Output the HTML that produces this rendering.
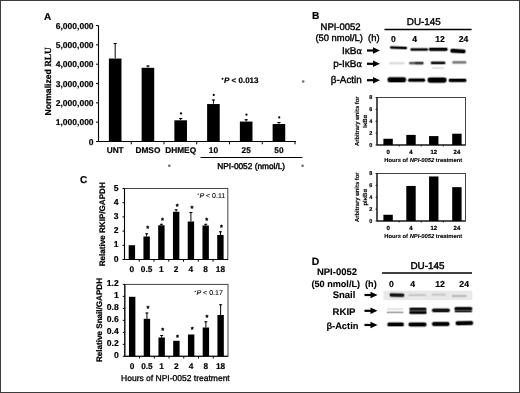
<!DOCTYPE html>
<html><head><meta charset="utf-8"><title>Figure</title>
<style>
html,body{margin:0;padding:0;background:#fff;}
body{width:520px;height:393px;overflow:hidden;}
svg{display:block;font-family:'Liberation Sans', Arial, sans-serif;text-rendering:geometricPrecision;}
</style></head>
<body>
<svg width="520" height="393" viewBox="0 0 520 393">
<rect x="0" y="0" width="520" height="393" fill="#fff"/>
<rect x="0.5" y="0.5" width="519" height="392" fill="none" stroke="#3c3c3c" stroke-width="1"/>
<text x="44.0" y="20.2" font-size="10" font-weight="bold" text-anchor="start" fill="#000" stroke="#000" stroke-width="0.18" >A</text>
<line x1="98.5" y1="25.5" x2="98.5" y2="141.5" stroke="#000" stroke-width="1.1" />
<line x1="96.0" y1="141.5" x2="98.5" y2="141.5" stroke="#000" stroke-width="1" />
<text x="93.6" y="144.5" font-size="8.5" font-weight="bold" text-anchor="end" fill="#000" stroke="#000" stroke-width="0.18" >0</text>
<line x1="96.0" y1="122.17" x2="98.5" y2="122.17" stroke="#000" stroke-width="1" />
<text x="93.6" y="125.17" font-size="8.5" font-weight="bold" text-anchor="end" fill="#000" stroke="#000" stroke-width="0.18" >1,000,000</text>
<line x1="96.0" y1="102.84" x2="98.5" y2="102.84" stroke="#000" stroke-width="1" />
<text x="93.6" y="105.84" font-size="8.5" font-weight="bold" text-anchor="end" fill="#000" stroke="#000" stroke-width="0.18" >2,000,000</text>
<line x1="96.0" y1="83.51" x2="98.5" y2="83.51" stroke="#000" stroke-width="1" />
<text x="93.6" y="86.51" font-size="8.5" font-weight="bold" text-anchor="end" fill="#000" stroke="#000" stroke-width="0.18" >3,000,000</text>
<line x1="96.0" y1="64.18" x2="98.5" y2="64.18" stroke="#000" stroke-width="1" />
<text x="93.6" y="67.18" font-size="8.5" font-weight="bold" text-anchor="end" fill="#000" stroke="#000" stroke-width="0.18" >4,000,000</text>
<line x1="96.0" y1="44.85000000000001" x2="98.5" y2="44.85000000000001" stroke="#000" stroke-width="1" />
<text x="93.6" y="47.85000000000001" font-size="8.5" font-weight="bold" text-anchor="end" fill="#000" stroke="#000" stroke-width="0.18" >5,000,000</text>
<line x1="96.0" y1="25.52000000000001" x2="98.5" y2="25.52000000000001" stroke="#000" stroke-width="1" />
<text x="93.6" y="28.52000000000001" font-size="8.5" font-weight="bold" text-anchor="end" fill="#000" stroke="#000" stroke-width="0.18" >6,000,000</text>
<line x1="98.5" y1="141.5" x2="296" y2="141.5" stroke="#000" stroke-width="1.1" />
<line x1="131.25" y1="141.5" x2="131.25" y2="144.3" stroke="#000" stroke-width="1" />
<line x1="164.0" y1="141.5" x2="164.0" y2="144.3" stroke="#000" stroke-width="1" />
<line x1="196.75" y1="141.5" x2="196.75" y2="144.3" stroke="#000" stroke-width="1" />
<line x1="229.5" y1="141.5" x2="229.5" y2="144.3" stroke="#000" stroke-width="1" />
<line x1="262.25" y1="141.5" x2="262.25" y2="144.3" stroke="#000" stroke-width="1" />
<line x1="295.0" y1="141.5" x2="295.0" y2="144.3" stroke="#000" stroke-width="1" />
<text transform="translate(51.0,81.4) rotate(-90)" font-size="8.6" font-weight="bold" text-anchor="middle" stroke="#000" stroke-width="0.25">Normalized <tspan font-family="'Liberation Serif', 'Times New Roman', serif" font-size="9.3">RLU</tspan></text>
<rect x="108.875" y="58.55" width="12.6" height="82.95" fill="#000" />
<line x1="115.175" y1="43" x2="115.175" y2="58.25" stroke="#000" stroke-width="1" />
<line x1="113.575" y1="43.5" x2="116.77499999999999" y2="43.5" stroke="#000" stroke-width="1.1" />
<text x="115.175" y="152.6" font-size="8.3" font-weight="bold" text-anchor="middle" fill="#000" stroke="#000" stroke-width="0.18" >UNT</text>
<rect x="141.625" y="67.8" width="12.6" height="73.7" fill="#000" />
<line x1="147.925" y1="65.5" x2="147.925" y2="67.5" stroke="#000" stroke-width="1" />
<line x1="146.32500000000002" y1="66.0" x2="149.525" y2="66.0" stroke="#000" stroke-width="1.1" />
<text x="147.925" y="152.6" font-size="8.3" font-weight="bold" text-anchor="middle" fill="#000" stroke="#000" stroke-width="0.18" >DMSO</text>
<rect x="174.375" y="120.3" width="12.6" height="21.2" fill="#000" />
<line x1="180.675" y1="118" x2="180.675" y2="120" stroke="#000" stroke-width="1" />
<line x1="179.07500000000002" y1="118.5" x2="182.275" y2="118.5" stroke="#000" stroke-width="1.1" />
<text x="180.675" y="152.6" font-size="8.3" font-weight="bold" text-anchor="middle" fill="#000" stroke="#000" stroke-width="0.18" >DHMEQ</text>
<circle cx="180.97500000000002" cy="113.4" r="1.1" fill="#000"/>
<rect x="207.125" y="104.05" width="12.6" height="37.45" fill="#000" />
<line x1="213.425" y1="99.5" x2="213.425" y2="103.75" stroke="#000" stroke-width="1" />
<line x1="211.82500000000002" y1="100.0" x2="215.025" y2="100.0" stroke="#000" stroke-width="1.1" />
<text x="213.425" y="152.6" font-size="8.3" font-weight="bold" text-anchor="middle" fill="#000" stroke="#000" stroke-width="0.18" >10</text>
<circle cx="213.72500000000002" cy="94.9" r="1.1" fill="#000"/>
<rect x="239.875" y="121.55" width="12.6" height="19.95" fill="#000" />
<line x1="246.175" y1="119.25" x2="246.175" y2="121.25" stroke="#000" stroke-width="1" />
<line x1="244.57500000000002" y1="119.75" x2="247.775" y2="119.75" stroke="#000" stroke-width="1.1" />
<text x="246.175" y="152.6" font-size="8.3" font-weight="bold" text-anchor="middle" fill="#000" stroke="#000" stroke-width="0.18" >25</text>
<circle cx="246.47500000000002" cy="114.65" r="1.1" fill="#000"/>
<rect x="272.625" y="124.05" width="12.6" height="17.45" fill="#000" />
<line x1="278.925" y1="122" x2="278.925" y2="123.75" stroke="#000" stroke-width="1" />
<line x1="277.325" y1="122.5" x2="280.52500000000003" y2="122.5" stroke="#000" stroke-width="1.1" />
<text x="278.925" y="152.6" font-size="8.3" font-weight="bold" text-anchor="middle" fill="#000" stroke="#000" stroke-width="0.18" >50</text>
<circle cx="279.225" cy="117.4" r="1.1" fill="#000"/>
<circle cx="222.5" cy="78.8" r="0.95" fill="#000"/>
<text x="224.0" y="83.3" font-size="8.0" font-weight="bold" text-anchor="start" fill="#000" stroke="#000" stroke-width="0.18" ><tspan font-style="italic">P</tspan> &lt; 0.013</text>
<line x1="200.5" y1="157.5" x2="302.5" y2="157.5" stroke="#000" stroke-width="1.2" />
<text x="251.2" y="168.8" font-size="8.3" font-weight="normal" text-anchor="middle" fill="#000" stroke="#000" stroke-width="0.42" >NPI-0052 (nmol/L)</text>
<circle cx="303.2" cy="81.5" r="1.3" fill="#6a6a6a"/>
<circle cx="302.6" cy="165.8" r="1.3" fill="#6a6a6a"/>
<circle cx="169.3" cy="165.7" r="1.3" fill="#6a6a6a"/>
<text x="80.1" y="183.3" font-size="10" font-weight="bold" text-anchor="start" fill="#000" stroke="#000" stroke-width="0.18" >C</text>
<rect x="124.5" y="188.5" width="103.30000000000001" height="71.0" fill="none" stroke="#444" stroke-width="1"/>
<line x1="124.5" y1="188.5" x2="124.5" y2="259.5" stroke="#000" stroke-width="1.1" />
<line x1="124.5" y1="259.5" x2="227.8" y2="259.5" stroke="#000" stroke-width="1.1" />
<line x1="122.5" y1="259.5" x2="124.5" y2="259.5" stroke="#000" stroke-width="1" />
<text x="118.5" y="261.5" font-size="8.6" font-weight="bold" text-anchor="end" fill="#000" stroke="#000" stroke-width="0.18" >0</text>
<line x1="122.5" y1="245.3" x2="124.5" y2="245.3" stroke="#000" stroke-width="1" />
<text x="118.5" y="247.3" font-size="8.6" font-weight="bold" text-anchor="end" fill="#000" stroke="#000" stroke-width="0.18" >1</text>
<line x1="122.5" y1="231.1" x2="124.5" y2="231.1" stroke="#000" stroke-width="1" />
<text x="118.5" y="233.1" font-size="8.6" font-weight="bold" text-anchor="end" fill="#000" stroke="#000" stroke-width="0.18" >2</text>
<line x1="122.5" y1="216.9" x2="124.5" y2="216.9" stroke="#000" stroke-width="1" />
<text x="118.5" y="218.9" font-size="8.6" font-weight="bold" text-anchor="end" fill="#000" stroke="#000" stroke-width="0.18" >3</text>
<line x1="122.5" y1="202.7" x2="124.5" y2="202.7" stroke="#000" stroke-width="1" />
<text x="118.5" y="204.7" font-size="8.6" font-weight="bold" text-anchor="end" fill="#000" stroke="#000" stroke-width="0.18" >4</text>
<line x1="122.5" y1="188.5" x2="124.5" y2="188.5" stroke="#000" stroke-width="1" />
<text x="118.5" y="190.5" font-size="8.6" font-weight="bold" text-anchor="end" fill="#000" stroke="#000" stroke-width="0.18" >5</text>
<line x1="139.25714285714287" y1="259.5" x2="139.25714285714287" y2="261.7" stroke="#000" stroke-width="1" />
<line x1="154.0142857142857" y1="259.5" x2="154.0142857142857" y2="261.7" stroke="#000" stroke-width="1" />
<line x1="168.77142857142857" y1="259.5" x2="168.77142857142857" y2="261.7" stroke="#000" stroke-width="1" />
<line x1="183.52857142857144" y1="259.5" x2="183.52857142857144" y2="261.7" stroke="#000" stroke-width="1" />
<line x1="198.28571428571428" y1="259.5" x2="198.28571428571428" y2="261.7" stroke="#000" stroke-width="1" />
<line x1="213.04285714285714" y1="259.5" x2="213.04285714285714" y2="261.7" stroke="#000" stroke-width="1" />
<rect x="128.67857142857144" y="245.2" width="6.4" height="14.300000000000011" fill="#000" />
<text x="131.87857142857143" y="272.1" font-size="8.3" font-weight="bold" text-anchor="middle" fill="#000" stroke="#000" stroke-width="0.18" >0</text>
<rect x="143.4357142857143" y="236.5" width="6.4" height="23.0" fill="#000" />
<line x1="146.6357142857143" y1="233.3" x2="146.6357142857143" y2="236.5" stroke="#000" stroke-width="1" />
<line x1="145.1357142857143" y1="233.8" x2="148.1357142857143" y2="233.8" stroke="#000" stroke-width="1" />
<text x="147.6357142857143" y="231.1" font-size="7.5" font-weight="normal" text-anchor="middle" fill="#000" stroke="#000" stroke-width="0.38" >*</text>
<text x="146.6357142857143" y="272.1" font-size="8.3" font-weight="bold" text-anchor="middle" fill="#000" stroke="#000" stroke-width="0.18" >0.5</text>
<rect x="158.19285714285715" y="225.3" width="6.4" height="34.19999999999999" fill="#000" />
<line x1="161.39285714285714" y1="223.8" x2="161.39285714285714" y2="225.3" stroke="#000" stroke-width="1" />
<line x1="159.89285714285714" y1="224.3" x2="162.89285714285714" y2="224.3" stroke="#000" stroke-width="1" />
<text x="162.39285714285714" y="222.9" font-size="7.5" font-weight="normal" text-anchor="middle" fill="#000" stroke="#000" stroke-width="0.38" >*</text>
<text x="161.39285714285714" y="272.1" font-size="8.3" font-weight="bold" text-anchor="middle" fill="#000" stroke="#000" stroke-width="0.18" >1</text>
<rect x="172.95000000000002" y="211.8" width="6.4" height="47.69999999999999" fill="#000" />
<line x1="176.15" y1="209.3" x2="176.15" y2="211.8" stroke="#000" stroke-width="1" />
<line x1="174.65" y1="209.8" x2="177.65" y2="209.8" stroke="#000" stroke-width="1" />
<text x="177.15" y="208.6" font-size="7.5" font-weight="normal" text-anchor="middle" fill="#000" stroke="#000" stroke-width="0.38" >*</text>
<text x="176.15" y="272.1" font-size="8.3" font-weight="bold" text-anchor="middle" fill="#000" stroke="#000" stroke-width="0.18" >2</text>
<rect x="187.70714285714286" y="221.5" width="6.4" height="38.0" fill="#000" />
<line x1="190.90714285714284" y1="212" x2="190.90714285714284" y2="221.5" stroke="#000" stroke-width="1" />
<line x1="189.40714285714284" y1="212.5" x2="192.40714285714284" y2="212.5" stroke="#000" stroke-width="1" />
<text x="191.90714285714284" y="211.1" font-size="7.5" font-weight="normal" text-anchor="middle" fill="#000" stroke="#000" stroke-width="0.38" >*</text>
<text x="190.90714285714284" y="272.1" font-size="8.3" font-weight="bold" text-anchor="middle" fill="#000" stroke="#000" stroke-width="0.18" >4</text>
<rect x="202.46428571428572" y="225.5" width="6.4" height="34.0" fill="#000" />
<line x1="205.6642857142857" y1="223.8" x2="205.6642857142857" y2="225.5" stroke="#000" stroke-width="1" />
<line x1="204.1642857142857" y1="224.3" x2="207.1642857142857" y2="224.3" stroke="#000" stroke-width="1" />
<text x="206.6642857142857" y="222.9" font-size="7.5" font-weight="normal" text-anchor="middle" fill="#000" stroke="#000" stroke-width="0.38" >*</text>
<text x="205.6642857142857" y="272.1" font-size="8.3" font-weight="bold" text-anchor="middle" fill="#000" stroke="#000" stroke-width="0.18" >8</text>
<rect x="217.2214285714286" y="235" width="6.4" height="24.5" fill="#000" />
<line x1="220.42142857142858" y1="231.3" x2="220.42142857142858" y2="235" stroke="#000" stroke-width="1" />
<line x1="218.92142857142858" y1="231.8" x2="221.92142857142858" y2="231.8" stroke="#000" stroke-width="1" />
<text x="221.42142857142858" y="230.4" font-size="7.5" font-weight="normal" text-anchor="middle" fill="#000" stroke="#000" stroke-width="0.38" >*</text>
<text x="220.42142857142858" y="272.1" font-size="8.3" font-weight="bold" text-anchor="middle" fill="#000" stroke="#000" stroke-width="0.18" >18</text>
<circle cx="198.20000000000002" cy="194.20000000000002" r="0.65" fill="#000"/>
<text x="199.4" y="197.8" font-size="7" font-weight="normal" text-anchor="start" fill="#000" stroke="#000" stroke-width="0.1" ><tspan font-style="italic">P</tspan> &lt; 0.11</text>
<text transform="translate(104.7,224.3) rotate(-90)" font-size="8.1" font-weight="bold" text-anchor="middle" stroke="#000" stroke-width="0.22">Relative RKIP/GAPDH</text>
<rect x="124.8" y="284.4" width="103.2" height="71.90000000000003" fill="none" stroke="#444" stroke-width="1"/>
<line x1="124.8" y1="284.4" x2="124.8" y2="356.3" stroke="#000" stroke-width="1.1" />
<line x1="124.8" y1="356.3" x2="228" y2="356.3" stroke="#000" stroke-width="1.1" />
<line x1="122.8" y1="356.3" x2="124.8" y2="356.3" stroke="#000" stroke-width="1" />
<text x="118.8" y="358.3" font-size="8.6" font-weight="bold" text-anchor="end" fill="#000" stroke="#000" stroke-width="0.18" >0</text>
<line x1="122.8" y1="344.31666666666666" x2="124.8" y2="344.31666666666666" stroke="#000" stroke-width="1" />
<text x="118.8" y="346.31666666666666" font-size="8.6" font-weight="bold" text-anchor="end" fill="#000" stroke="#000" stroke-width="0.18" >0.2</text>
<line x1="122.8" y1="332.3333333333333" x2="124.8" y2="332.3333333333333" stroke="#000" stroke-width="1" />
<text x="118.8" y="334.3333333333333" font-size="8.6" font-weight="bold" text-anchor="end" fill="#000" stroke="#000" stroke-width="0.18" >0.4</text>
<line x1="122.8" y1="320.35" x2="124.8" y2="320.35" stroke="#000" stroke-width="1" />
<text x="118.8" y="322.35" font-size="8.6" font-weight="bold" text-anchor="end" fill="#000" stroke="#000" stroke-width="0.18" >0.6</text>
<line x1="122.8" y1="308.3666666666667" x2="124.8" y2="308.3666666666667" stroke="#000" stroke-width="1" />
<text x="118.8" y="310.3666666666667" font-size="8.6" font-weight="bold" text-anchor="end" fill="#000" stroke="#000" stroke-width="0.18" >0.8</text>
<line x1="122.8" y1="296.3833333333333" x2="124.8" y2="296.3833333333333" stroke="#000" stroke-width="1" />
<text x="118.8" y="298.3833333333333" font-size="8.6" font-weight="bold" text-anchor="end" fill="#000" stroke="#000" stroke-width="0.18" >1</text>
<line x1="122.8" y1="284.4" x2="124.8" y2="284.4" stroke="#000" stroke-width="1" />
<text x="118.8" y="286.4" font-size="8.6" font-weight="bold" text-anchor="end" fill="#000" stroke="#000" stroke-width="0.18" >1.2</text>
<line x1="139.54285714285714" y1="356.3" x2="139.54285714285714" y2="358.5" stroke="#000" stroke-width="1" />
<line x1="154.28571428571428" y1="356.3" x2="154.28571428571428" y2="358.5" stroke="#000" stroke-width="1" />
<line x1="169.0285714285714" y1="356.3" x2="169.0285714285714" y2="358.5" stroke="#000" stroke-width="1" />
<line x1="183.77142857142857" y1="356.3" x2="183.77142857142857" y2="358.5" stroke="#000" stroke-width="1" />
<line x1="198.51428571428573" y1="356.3" x2="198.51428571428573" y2="358.5" stroke="#000" stroke-width="1" />
<line x1="213.25714285714287" y1="356.3" x2="213.25714285714287" y2="358.5" stroke="#000" stroke-width="1" />
<rect x="128.9714285714286" y="296.8" width="6.4" height="59.5" fill="#000" />
<text x="132.17142857142858" y="368.90000000000003" font-size="8.3" font-weight="bold" text-anchor="middle" fill="#000" stroke="#000" stroke-width="0.18" >0</text>
<rect x="143.71428571428572" y="318.8" width="6.4" height="37.5" fill="#000" />
<line x1="146.9142857142857" y1="312.5" x2="146.9142857142857" y2="318.8" stroke="#000" stroke-width="1" />
<line x1="145.4142857142857" y1="313.0" x2="148.4142857142857" y2="313.0" stroke="#000" stroke-width="1" />
<text x="147.9142857142857" y="310.6" font-size="7.5" font-weight="normal" text-anchor="middle" fill="#000" stroke="#000" stroke-width="0.38" >*</text>
<text x="146.9142857142857" y="368.90000000000003" font-size="8.3" font-weight="bold" text-anchor="middle" fill="#000" stroke="#000" stroke-width="0.18" >0.5</text>
<rect x="158.45714285714286" y="337.5" width="6.4" height="18.80000000000001" fill="#000" />
<line x1="161.65714285714284" y1="335" x2="161.65714285714284" y2="337.5" stroke="#000" stroke-width="1" />
<line x1="160.15714285714284" y1="335.5" x2="163.15714285714284" y2="335.5" stroke="#000" stroke-width="1" />
<text x="162.65714285714284" y="333.1" font-size="7.5" font-weight="normal" text-anchor="middle" fill="#000" stroke="#000" stroke-width="0.38" >*</text>
<text x="161.65714285714284" y="368.90000000000003" font-size="8.3" font-weight="bold" text-anchor="middle" fill="#000" stroke="#000" stroke-width="0.18" >1</text>
<rect x="173.20000000000002" y="340.8" width="6.4" height="15.5" fill="#000" />
<text x="177.4" y="339.8" font-size="7.5" font-weight="normal" text-anchor="middle" fill="#000" stroke="#000" stroke-width="0.38" >*</text>
<text x="176.4" y="368.90000000000003" font-size="8.3" font-weight="bold" text-anchor="middle" fill="#000" stroke="#000" stroke-width="0.18" >2</text>
<rect x="187.94285714285715" y="334.5" width="6.4" height="21.80000000000001" fill="#000" />
<text x="192.14285714285714" y="332.40000000000003" font-size="7.5" font-weight="normal" text-anchor="middle" fill="#000" stroke="#000" stroke-width="0.38" >*</text>
<text x="191.14285714285714" y="368.90000000000003" font-size="8.3" font-weight="bold" text-anchor="middle" fill="#000" stroke="#000" stroke-width="0.18" >4</text>
<rect x="202.6857142857143" y="327.5" width="6.4" height="28.80000000000001" fill="#000" />
<line x1="205.8857142857143" y1="321.3" x2="205.8857142857143" y2="327.5" stroke="#000" stroke-width="1" />
<line x1="204.3857142857143" y1="321.8" x2="207.3857142857143" y2="321.8" stroke="#000" stroke-width="1" />
<text x="206.8857142857143" y="320.40000000000003" font-size="7.5" font-weight="normal" text-anchor="middle" fill="#000" stroke="#000" stroke-width="0.38" >*</text>
<text x="205.8857142857143" y="368.90000000000003" font-size="8.3" font-weight="bold" text-anchor="middle" fill="#000" stroke="#000" stroke-width="0.18" >8</text>
<rect x="217.42857142857144" y="315" width="6.4" height="41.30000000000001" fill="#000" />
<line x1="220.62857142857143" y1="304.3" x2="220.62857142857143" y2="315" stroke="#000" stroke-width="1" />
<line x1="219.12857142857143" y1="304.8" x2="222.12857142857143" y2="304.8" stroke="#000" stroke-width="1" />
<text x="220.62857142857143" y="368.90000000000003" font-size="8.3" font-weight="bold" text-anchor="middle" fill="#000" stroke="#000" stroke-width="0.18" >18</text>
<circle cx="195.3" cy="291.4" r="0.65" fill="#000"/>
<text x="196.5" y="295" font-size="7" font-weight="normal" text-anchor="start" fill="#000" stroke="#000" stroke-width="0.1" ><tspan font-style="italic">P</tspan> &lt; 0.17</text>
<text transform="translate(102.3,320) rotate(-90)" font-size="8.1" font-weight="bold" text-anchor="middle" stroke="#000" stroke-width="0.22">Relative Snail/GAPDH</text>
<text x="175.4" y="381.0" font-size="8.5" font-weight="normal" text-anchor="middle" fill="#000" stroke="#000" stroke-width="0.3" >Hours of NPI-0052 treatment</text>
<text x="311.9" y="19.4" font-size="10.2" font-weight="bold" text-anchor="start" fill="#000" stroke="#000" stroke-width="0.18" >B</text>
<text x="340.6" y="29.6" font-size="9.5" font-weight="normal" text-anchor="middle" fill="#000" stroke="#000" stroke-width="0.38" >NPI-0052</text>
<text x="347.5" y="41.3" font-size="9.4" font-weight="normal" text-anchor="middle" fill="#000" stroke="#000" stroke-width="0.38" >(50 nmol/L)&#160; (h)</text>
<text x="423.8" y="24.5" font-size="9.9" font-weight="normal" text-anchor="middle" fill="#000" stroke="#000" stroke-width="0.38" >DU-145</text>
<line x1="384.5" y1="29.5" x2="471.6" y2="29.5" stroke="#000" stroke-width="1.4" />
<text x="393.3" y="42.4" font-size="8.6" font-weight="bold" text-anchor="middle" fill="#000" stroke="#000" stroke-width="0.18" >0</text>
<text x="414.6" y="42.4" font-size="8.6" font-weight="bold" text-anchor="middle" fill="#000" stroke="#000" stroke-width="0.18" >4</text>
<text x="440" y="42.4" font-size="8.6" font-weight="bold" text-anchor="middle" fill="#000" stroke="#000" stroke-width="0.18" >12</text>
<text x="463.5" y="42.4" font-size="8.6" font-weight="bold" text-anchor="middle" fill="#000" stroke="#000" stroke-width="0.18" >24</text>
<text x="361.8" y="53.6" font-size="10.0" font-weight="normal" text-anchor="end" fill="#000" stroke="#000" stroke-width="0.38" >I&#954;B<tspan font-family="'Liberation Serif', 'Times New Roman', serif">&#945;</tspan></text>
<text x="361.8" y="67.2" font-size="10.0" font-weight="normal" text-anchor="end" fill="#000" stroke="#000" stroke-width="0.38" >p-I&#954;B<tspan font-family="'Liberation Serif', 'Times New Roman', serif">&#945;</tspan></text>
<text x="361.8" y="83.3" font-size="9.9" font-weight="normal" text-anchor="end" fill="#000" stroke="#000" stroke-width="0.38" >&#946;-Actin</text>
<line x1="367" y1="50.5" x2="375" y2="50.5" stroke="#000" stroke-width="2.2" />
<path d="M373,47.3 L380,50.5 L373,53.7 Z" fill="#000"/>
<line x1="367" y1="63.8" x2="375" y2="63.8" stroke="#000" stroke-width="2.2" />
<path d="M373,60.599999999999994 L380,63.8 L373,67.0 Z" fill="#000"/>
<line x1="367" y1="80.2" x2="375" y2="80.2" stroke="#000" stroke-width="2.2" />
<path d="M373,77.0 L380,80.2 L373,83.4 Z" fill="#000"/>
<rect x="389.30" y="45.70" width="18.40" height="4.00" rx="2.00" fill="#000" opacity="0.332" transform="rotate(2.5,398.50,47.70)"/>
<rect x="390.30" y="46.70" width="16.40" height="2.00" rx="1.00" fill="#000" opacity="0.950" transform="rotate(2.5,398.50,47.70)"/>
<rect x="409.70" y="47.40" width="19.00" height="4.10" rx="2.05" fill="#000" opacity="0.332"/>
<rect x="410.70" y="48.40" width="17.00" height="2.10" rx="1.05" fill="#000" opacity="0.950"/>
<rect x="428.20" y="47.00" width="20.10" height="4.70" rx="2.35" fill="#000" opacity="0.332"/>
<rect x="429.20" y="48.00" width="18.10" height="2.70" rx="1.35" fill="#000" opacity="0.950"/>
<rect x="449.60" y="48.40" width="16.70" height="5.30" rx="2.65" fill="#000" opacity="0.339" transform="rotate(3,457.95,51.05)"/>
<rect x="450.60" y="49.40" width="14.70" height="3.30" rx="1.65" fill="#000" opacity="0.970" transform="rotate(3,457.95,51.05)"/>
<rect x="388.30" y="61.30" width="17.10" height="4.00" rx="2.00" fill="#000" opacity="0.035"/>
<rect x="389.30" y="62.30" width="15.10" height="2.00" rx="1.00" fill="#000" opacity="0.100"/>
<rect x="408.30" y="61.10" width="16.00" height="4.20" rx="2.10" fill="#000" opacity="0.175"/>
<rect x="409.30" y="62.10" width="14.00" height="2.20" rx="1.10" fill="#000" opacity="0.500"/>
<rect x="414.30" y="61.10" width="10.00" height="4.20" rx="2.10" fill="#000" opacity="0.105"/>
<rect x="415.30" y="62.10" width="8.00" height="2.20" rx="1.10" fill="#000" opacity="0.300"/>
<rect x="430.10" y="60.80" width="16.00" height="4.20" rx="2.10" fill="#000" opacity="0.297"/>
<rect x="431.10" y="61.80" width="14.00" height="2.20" rx="1.10" fill="#000" opacity="0.850"/>
<rect x="431.30" y="66.50" width="13.40" height="3.00" rx="1.50" fill="#000" opacity="0.042"/>
<rect x="432.30" y="67.50" width="11.40" height="1.00" rx="0.50" fill="#000" opacity="0.120"/>
<rect x="451.50" y="60.30" width="15.60" height="4.20" rx="2.10" fill="#000" opacity="0.147"/>
<rect x="452.50" y="61.30" width="13.60" height="2.20" rx="1.10" fill="#000" opacity="0.420"/>
<rect x="386.80" y="76.50" width="20.00" height="6.50" rx="3.25" fill="#000" opacity="0.350"/>
<rect x="387.80" y="77.50" width="18.00" height="4.50" rx="2.25" fill="#000" opacity="1.000"/>
<rect x="407.50" y="77.80" width="18.30" height="4.80" rx="2.40" fill="#000" opacity="0.350"/>
<rect x="408.50" y="78.80" width="16.30" height="2.80" rx="1.40" fill="#000" opacity="1.000"/>
<rect x="426.80" y="76.70" width="20.50" height="6.80" rx="3.40" fill="#000" opacity="0.350"/>
<rect x="427.80" y="77.70" width="18.50" height="4.80" rx="2.40" fill="#000" opacity="1.000"/>
<rect x="448.00" y="78.10" width="19.10" height="4.70" rx="2.35" fill="#000" opacity="0.350"/>
<rect x="449.00" y="79.10" width="17.10" height="2.70" rx="1.35" fill="#000" opacity="1.000"/>
<rect x="377.0" y="97.5" width="88.5" height="47.5" fill="none" stroke="#444" stroke-width="1"/>
<line x1="377.0" y1="97.5" x2="377.0" y2="145.0" stroke="#000" stroke-width="1" />
<line x1="377.0" y1="145.0" x2="465.5" y2="145.0" stroke="#000" stroke-width="1" />
<line x1="375.5" y1="145.0" x2="377.0" y2="145.0" stroke="#000" stroke-width="0.8" />
<text x="372.4" y="146.9" font-size="5.5" font-weight="bold" text-anchor="end" fill="#000" stroke="#000" stroke-width="0.18" >0</text>
<line x1="375.5" y1="133.125" x2="377.0" y2="133.125" stroke="#000" stroke-width="0.8" />
<text x="372.4" y="135.025" font-size="5.5" font-weight="bold" text-anchor="end" fill="#000" stroke="#000" stroke-width="0.18" >2</text>
<line x1="375.5" y1="121.25" x2="377.0" y2="121.25" stroke="#000" stroke-width="0.8" />
<text x="372.4" y="123.15" font-size="5.5" font-weight="bold" text-anchor="end" fill="#000" stroke="#000" stroke-width="0.18" >4</text>
<line x1="375.5" y1="109.375" x2="377.0" y2="109.375" stroke="#000" stroke-width="0.8" />
<text x="372.4" y="111.275" font-size="5.5" font-weight="bold" text-anchor="end" fill="#000" stroke="#000" stroke-width="0.18" >6</text>
<line x1="375.5" y1="97.5" x2="377.0" y2="97.5" stroke="#000" stroke-width="0.8" />
<text x="372.4" y="99.4" font-size="5.5" font-weight="bold" text-anchor="end" fill="#000" stroke="#000" stroke-width="0.18" >8</text>
<rect x="383.40000000000003" y="138.765625" width="9.4" height="6.234375" fill="#000" />
<text x="388.1" y="154.2" font-size="6.0" font-weight="bold" text-anchor="middle" fill="#000" stroke="#000" stroke-width="0.2" >0</text>
<rect x="406.3" y="134.90625" width="9.4" height="10.09375" fill="#000" />
<text x="411" y="154.2" font-size="6.0" font-weight="bold" text-anchor="middle" fill="#000" stroke="#000" stroke-width="0.2" >4</text>
<rect x="429.05" y="136.09375" width="9.4" height="8.90625" fill="#000" />
<text x="433.75" y="154.2" font-size="6.0" font-weight="bold" text-anchor="middle" fill="#000" stroke="#000" stroke-width="0.2" >12</text>
<rect x="452.2" y="133.71875" width="9.4" height="11.28125" fill="#000" />
<text x="456.9" y="154.2" font-size="6.0" font-weight="bold" text-anchor="middle" fill="#000" stroke="#000" stroke-width="0.2" >24</text>
<line x1="399.125" y1="145.0" x2="399.125" y2="146.5" stroke="#000" stroke-width="0.8" />
<line x1="421.25" y1="145.0" x2="421.25" y2="146.5" stroke="#000" stroke-width="0.8" />
<line x1="443.375" y1="145.0" x2="443.375" y2="146.5" stroke="#000" stroke-width="0.8" />
<text x="423.2" y="161.8" font-size="5.8" font-weight="bold" text-anchor="middle" fill="#000" stroke="#000" stroke-width="0.1" >Hours of <tspan font-style="italic">NPI-0052</tspan> treatment</text>
<text transform="translate(358.6,121.25) rotate(-90)" font-size="5.85" font-weight="bold" text-anchor="middle" stroke="#000" stroke-width="0.1">Arbitrary units for</text>
<text transform="translate(366.90000000000003,121.25) rotate(-90)" font-size="6.0" font-weight="bold" text-anchor="middle" stroke="#000" stroke-width="0.1">I&#954;B&#945;</text>
<rect x="377.0" y="173.5" width="88.5" height="47.5" fill="none" stroke="#444" stroke-width="1"/>
<line x1="377.0" y1="173.5" x2="377.0" y2="221.0" stroke="#000" stroke-width="1" />
<line x1="377.0" y1="221.0" x2="465.5" y2="221.0" stroke="#000" stroke-width="1" />
<line x1="375.5" y1="221.0" x2="377.0" y2="221.0" stroke="#000" stroke-width="0.8" />
<text x="372.4" y="222.9" font-size="5.5" font-weight="bold" text-anchor="end" fill="#000" stroke="#000" stroke-width="0.18" >0</text>
<line x1="375.5" y1="209.125" x2="377.0" y2="209.125" stroke="#000" stroke-width="0.8" />
<text x="372.4" y="211.025" font-size="5.5" font-weight="bold" text-anchor="end" fill="#000" stroke="#000" stroke-width="0.18" >2</text>
<line x1="375.5" y1="197.25" x2="377.0" y2="197.25" stroke="#000" stroke-width="0.8" />
<text x="372.4" y="199.15" font-size="5.5" font-weight="bold" text-anchor="end" fill="#000" stroke="#000" stroke-width="0.18" >4</text>
<line x1="375.5" y1="185.375" x2="377.0" y2="185.375" stroke="#000" stroke-width="0.8" />
<text x="372.4" y="187.275" font-size="5.5" font-weight="bold" text-anchor="end" fill="#000" stroke="#000" stroke-width="0.18" >6</text>
<line x1="375.5" y1="173.5" x2="377.0" y2="173.5" stroke="#000" stroke-width="0.8" />
<text x="372.4" y="175.4" font-size="5.5" font-weight="bold" text-anchor="end" fill="#000" stroke="#000" stroke-width="0.18" >8</text>
<rect x="383.40000000000003" y="214.765625" width="9.4" height="6.234375" fill="#000" />
<text x="388.1" y="230.2" font-size="6.0" font-weight="bold" text-anchor="middle" fill="#000" stroke="#000" stroke-width="0.2" >0</text>
<rect x="406.3" y="185.96875" width="9.4" height="35.03125" fill="#000" />
<text x="411" y="230.2" font-size="6.0" font-weight="bold" text-anchor="middle" fill="#000" stroke="#000" stroke-width="0.2" >4</text>
<rect x="429.05" y="176.46875" width="9.4" height="44.53125" fill="#000" />
<text x="433.75" y="230.2" font-size="6.0" font-weight="bold" text-anchor="middle" fill="#000" stroke="#000" stroke-width="0.2" >12</text>
<rect x="452.2" y="187.15625" width="9.4" height="33.84375" fill="#000" />
<text x="456.9" y="230.2" font-size="6.0" font-weight="bold" text-anchor="middle" fill="#000" stroke="#000" stroke-width="0.2" >24</text>
<line x1="399.125" y1="221.0" x2="399.125" y2="222.5" stroke="#000" stroke-width="0.8" />
<line x1="421.25" y1="221.0" x2="421.25" y2="222.5" stroke="#000" stroke-width="0.8" />
<line x1="443.375" y1="221.0" x2="443.375" y2="222.5" stroke="#000" stroke-width="0.8" />
<text x="423.2" y="237.8" font-size="5.8" font-weight="bold" text-anchor="middle" fill="#000" stroke="#000" stroke-width="0.1" >Hours of <tspan font-style="italic">NPI-0052</tspan> treatment</text>
<text transform="translate(358.6,197.25) rotate(-90)" font-size="5.85" font-weight="bold" text-anchor="middle" stroke="#000" stroke-width="0.1">Arbitrary units for</text>
<text transform="translate(366.90000000000003,197.25) rotate(-90)" font-size="6.0" font-weight="bold" text-anchor="middle" stroke="#000" stroke-width="0.1">pI&#954;B&#945;</text>
<text x="311.7" y="264.6" font-size="10.4" font-weight="bold" text-anchor="start" fill="#000" stroke="#000" stroke-width="0.18" >D</text>
<text x="337.0" y="274.6" font-size="9.5" font-weight="bold" text-anchor="middle" fill="#000" stroke="#000" stroke-width="0.1" >NPI-0052</text>
<text x="344.1" y="286.6" font-size="9.1" font-weight="bold" text-anchor="middle" fill="#000" stroke="#000" stroke-width="0.1" >(50 nmol/L)&#160; (h)</text>
<text x="427.4" y="268.7" font-size="9.9" font-weight="normal" text-anchor="middle" fill="#000" stroke="#000" stroke-width="0.45" >DU-145</text>
<line x1="382" y1="273" x2="472" y2="273" stroke="#000" stroke-width="1.4" />
<text x="391.5" y="287" font-size="8.7" font-weight="bold" text-anchor="middle" fill="#000" stroke="#000" stroke-width="0.18" >0</text>
<text x="412.6" y="287" font-size="8.7" font-weight="bold" text-anchor="middle" fill="#000" stroke="#000" stroke-width="0.18" >4</text>
<text x="440" y="287" font-size="8.7" font-weight="bold" text-anchor="middle" fill="#000" stroke="#000" stroke-width="0.18" >12</text>
<text x="464.2" y="287" font-size="8.7" font-weight="bold" text-anchor="middle" fill="#000" stroke="#000" stroke-width="0.18" >24</text>
<text x="355.4" y="297.6" font-size="9.5" font-weight="bold" text-anchor="end" fill="#000" stroke="#000" stroke-width="0.1" >Snail</text>
<text x="355.5" y="314.9" font-size="9.6" font-weight="bold" text-anchor="end" fill="#000" stroke="#000" stroke-width="0.1" >RKIP</text>
<text x="358.4" y="329.2" font-size="9.3" font-weight="bold" text-anchor="end" fill="#000" stroke="#000" stroke-width="0.1" >&#946;-Actin</text>
<line x1="364.5" y1="295" x2="372.5" y2="295" stroke="#000" stroke-width="2.2" />
<path d="M370.5,291.8 L377.5,295 L370.5,298.2 Z" fill="#000"/>
<line x1="364.5" y1="310.8" x2="372.5" y2="310.8" stroke="#000" stroke-width="2.2" />
<path d="M370.5,307.6 L377.5,310.8 L370.5,314.0 Z" fill="#000"/>
<line x1="364.5" y1="325" x2="372.5" y2="325" stroke="#000" stroke-width="2.2" />
<path d="M370.5,321.8 L377.5,325 L370.5,328.2 Z" fill="#000"/>
<rect x="383.4" y="290.7" width="88.9" height="9.4" fill="#e9e9e9" />
<rect x="388.90" y="292.60" width="16.10" height="5.00" rx="2.50" fill="#000" opacity="0.297" transform="rotate(2,396.95,295.10)"/>
<rect x="389.90" y="293.60" width="14.10" height="3.00" rx="1.50" fill="#000" opacity="0.850" transform="rotate(2,396.95,295.10)"/>
<rect x="407.50" y="293.30" width="19.20" height="3.80" rx="1.90" fill="#000" opacity="0.035"/>
<rect x="408.50" y="294.30" width="17.20" height="1.80" rx="0.90" fill="#000" opacity="0.100"/>
<rect x="431.10" y="292.70" width="15.60" height="3.80" rx="1.90" fill="#000" opacity="0.035"/>
<rect x="432.10" y="293.70" width="13.60" height="1.80" rx="0.90" fill="#000" opacity="0.100"/>
<rect x="450.90" y="293.90" width="16.50" height="4.20" rx="2.10" fill="#000" opacity="0.045"/>
<rect x="451.90" y="294.90" width="14.50" height="2.20" rx="1.10" fill="#000" opacity="0.130"/>
<rect x="386.10" y="307.30" width="18.00" height="3.40" rx="1.70" fill="#000" opacity="0.028"/>
<rect x="387.10" y="308.30" width="16.00" height="1.40" rx="0.70" fill="#000" opacity="0.080"/>
<rect x="386.10" y="310.70" width="18.00" height="3.40" rx="1.70" fill="#000" opacity="0.098"/>
<rect x="387.10" y="311.70" width="16.00" height="1.40" rx="0.70" fill="#000" opacity="0.280"/>
<rect x="408.70" y="306.90" width="18.50" height="7.70" rx="3.50" fill="#000" opacity="0.193"/>
<rect x="409.70" y="307.90" width="16.50" height="5.70" rx="2.85" fill="#000" opacity="0.550"/>
<rect x="408.70" y="306.90" width="18.50" height="3.80" rx="1.90" fill="#000" opacity="0.262"/>
<rect x="409.70" y="307.90" width="16.50" height="1.80" rx="0.90" fill="#000" opacity="0.750"/>
<rect x="408.70" y="310.70" width="18.50" height="3.90" rx="1.95" fill="#000" opacity="0.332"/>
<rect x="409.70" y="311.70" width="16.50" height="1.90" rx="0.95" fill="#000" opacity="0.950"/>
<rect x="431.30" y="307.70" width="19.30" height="5.30" rx="2.65" fill="#000" opacity="0.308"/>
<rect x="432.30" y="308.70" width="17.30" height="3.30" rx="1.65" fill="#000" opacity="0.880"/>
<rect x="453.90" y="306.60" width="18.90" height="6.50" rx="3.25" fill="#000" opacity="0.193"/>
<rect x="454.90" y="307.60" width="16.90" height="4.50" rx="2.25" fill="#000" opacity="0.550"/>
<rect x="453.90" y="306.60" width="18.90" height="4.00" rx="2.00" fill="#000" opacity="0.332"/>
<rect x="454.90" y="307.60" width="16.90" height="2.00" rx="1.00" fill="#000" opacity="0.950"/>
<rect x="453.90" y="309.90" width="18.90" height="3.20" rx="1.60" fill="#000" opacity="0.175"/>
<rect x="454.90" y="310.90" width="16.90" height="1.20" rx="0.60" fill="#000" opacity="0.500"/>
<rect x="386.70" y="321.70" width="17.90" height="5.40" rx="2.70" fill="#000" opacity="0.350"/>
<rect x="387.70" y="322.70" width="15.90" height="3.40" rx="1.70" fill="#000" opacity="1.000"/>
<rect x="407.80" y="321.70" width="19.40" height="5.60" rx="2.80" fill="#000" opacity="0.350"/>
<rect x="408.80" y="322.70" width="17.40" height="3.60" rx="1.80" fill="#000" opacity="1.000"/>
<rect x="431.30" y="321.30" width="18.90" height="5.40" rx="2.70" fill="#000" opacity="0.350"/>
<rect x="432.30" y="322.30" width="16.90" height="3.40" rx="1.70" fill="#000" opacity="1.000"/>
<rect x="454.90" y="320.40" width="18.90" height="5.40" rx="2.70" fill="#000" opacity="0.350" transform="rotate(-1,464.35,323.10)"/>
<rect x="455.90" y="321.40" width="16.90" height="3.40" rx="1.70" fill="#000" opacity="1.000" transform="rotate(-1,464.35,323.10)"/>
</svg>
</body></html>
